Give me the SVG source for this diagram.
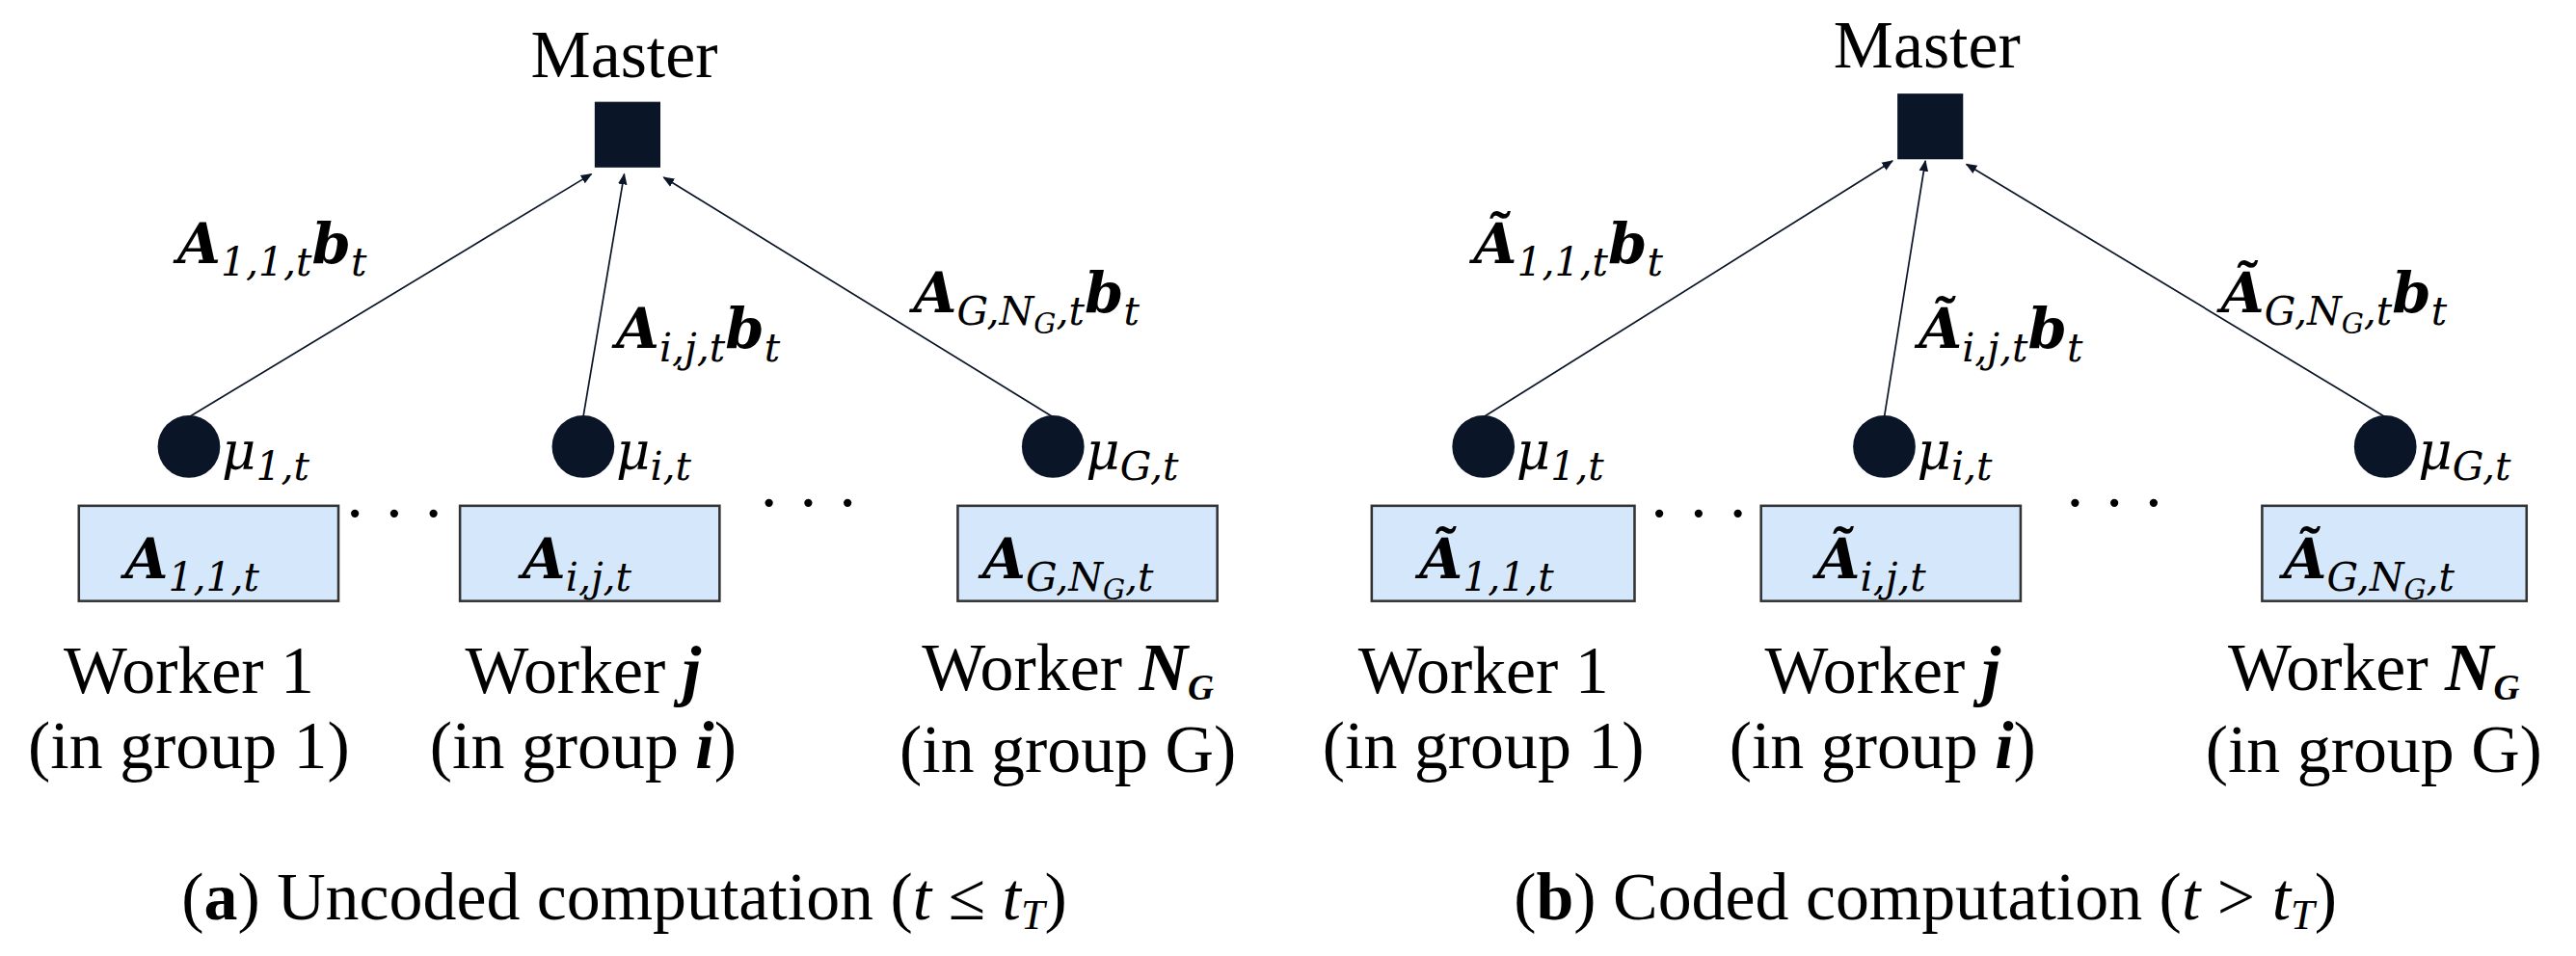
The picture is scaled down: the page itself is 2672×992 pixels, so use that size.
<svg xmlns="http://www.w3.org/2000/svg" width="2672" height="992" viewBox="0 0 2672 992">
<defs>
<marker id="ah" viewBox="0 0 10 10" refX="9" refY="5" markerWidth="7" markerHeight="7" orient="auto-start-reverse"><path d="M0,1 L10,5 L0,9 z" fill="#0a1628"/></marker>
<style>
.t{font-family:"Liberation Serif",serif;font-size:41px;fill:#000}
.m{font-family:"DejaVu Serif",serif;font-size:34px;font-weight:bold;font-style:italic;fill:#000}
.mu{font-family:"DejaVu Serif",serif;font-size:32px;font-style:italic;fill:#000}
.s{font-size:24px;font-weight:normal}
.g{font-size:17px;font-weight:normal}
.box{fill:#d5e8fb;stroke:#333;stroke-width:1.5}
.c{fill:#0a1628}
.e{stroke:#0a1628;stroke-width:1;fill:none;marker-end:url(#ah)}
</style>
</defs>
<rect width="2672" height="992" fill="#fff"/>
<g transform="scale(1.704)">
<g id="edges">
<line class="e" x1="115" y1="254" x2="360" y2="106"/>
<line class="e" x1="355" y1="254" x2="380" y2="106"/>
<line class="e" x1="641" y1="254" x2="404" y2="108"/>
<line class="e" x1="903" y1="254" x2="1152" y2="98"/>
<line class="e" x1="1147" y1="254" x2="1172" y2="98"/>
<line class="e" x1="1452" y1="254" x2="1197" y2="100"/>
</g>
<g id="masterA"><text class="t" x="380" y="47" text-anchor="middle">Master</text><rect class="c" x="362" y="62" width="40" height="40"/></g>
<g id="masterB"><text class="t" x="1173" y="41" text-anchor="middle">Master</text><rect class="c" x="1155" y="57" width="40" height="40"/></g>
<g id="labelsA">
<text class="m" x="108" y="160">A<tspan class="s" dy="8">1,1,t</tspan><tspan dy="-8">b</tspan><tspan class="s" dy="8">t</tspan></text>
<text class="m" x="375" y="212">A<tspan class="s" dy="8">i,j,t</tspan><tspan dy="-8">b</tspan><tspan class="s" dy="8">t</tspan></text>
<text class="m" x="556" y="190">A<tspan class="s" dy="8">G,N</tspan><tspan class="g" dy="5">G</tspan><tspan class="s" dy="-5">,t</tspan><tspan dy="-8">b</tspan><tspan class="s" dy="8">t</tspan></text>
</g>
<g id="labelsB">
<text class="m" x="897" y="160">Ã<tspan class="s" dy="8">1,1,t</tspan><tspan dy="-8">b</tspan><tspan class="s" dy="8">t</tspan></text>
<text class="m" x="1168" y="212">Ã<tspan class="s" dy="8">i,j,t</tspan><tspan dy="-8">b</tspan><tspan class="s" dy="8">t</tspan></text>
<text class="m" x="1352" y="190">Ã<tspan class="s" dy="8">G,N</tspan><tspan class="g" dy="5">G</tspan><tspan class="s" dy="-5">,t</tspan><tspan dy="-8">b</tspan><tspan class="s" dy="8">t</tspan></text>
</g>
<g id="w1a"><circle class="c" cx="115" cy="272" r="19"/><text class="mu" x="135" y="286">μ<tspan class="s" dy="6">1,t</tspan></text><rect class="box" x="48" y="308" width="158" height="58"/><text class="m" x="76" y="352">A<tspan class="s" dy="8">1,1,t</tspan></text><text class="t" x="115" y="422" text-anchor="middle">Worker 1</text><text class="t" x="115" y="468" text-anchor="middle">(in group 1)</text></g>
<g id="wja"><circle class="c" cx="355" cy="272" r="19"/><text class="mu" x="375" y="286">μ<tspan class="s" dy="6">i,t</tspan></text><rect class="box" x="280" y="308" width="158" height="58"/><text class="m" x="318" y="352">A<tspan class="s" dy="8">i,j,t</tspan></text><text class="t" x="355" y="422" text-anchor="middle">Worker <tspan font-weight="bold" font-style="italic">j</tspan></text><text class="t" x="355" y="468" text-anchor="middle">(in group <tspan font-weight="bold" font-style="italic">i</tspan>)</text></g>
<g id="wna"><circle class="c" cx="641" cy="272" r="19"/><text class="mu" x="661" y="286">μ<tspan class="s" dy="6">G,t</tspan></text><rect class="box" x="583" y="308" width="158" height="58"/><text class="m" x="598" y="352">A<tspan class="s" dy="8">G,N</tspan><tspan class="g" dy="5">G</tspan><tspan class="s" dy="-5">,t</tspan></text><text class="t" x="650" y="420" text-anchor="middle">Worker <tspan font-weight="bold" font-style="italic">N</tspan><tspan font-weight="bold" font-style="italic" style="font-size:22px" dy="6">G</tspan></text><text class="t" x="650" y="470" text-anchor="middle">(in group G)</text></g>
<g id="w1b"><circle class="c" cx="903" cy="272" r="19"/><text class="mu" x="923" y="286">μ<tspan class="s" dy="6">1,t</tspan></text><rect class="box" x="835" y="308" width="160" height="58"/><text class="m" x="864" y="352">Ã<tspan class="s" dy="8">1,1,t</tspan></text><text class="t" x="903" y="422" text-anchor="middle">Worker 1</text><text class="t" x="903" y="468" text-anchor="middle">(in group 1)</text></g>
<g id="wjb"><circle class="c" cx="1147" cy="272" r="19"/><text class="mu" x="1167" y="286">μ<tspan class="s" dy="6">i,t</tspan></text><rect class="box" x="1072" y="308" width="158" height="58"/><text class="m" x="1106" y="352">Ã<tspan class="s" dy="8">i,j,t</tspan></text><text class="t" x="1146" y="422" text-anchor="middle">Worker <tspan font-weight="bold" font-style="italic">j</tspan></text><text class="t" x="1146" y="468" text-anchor="middle">(in group <tspan font-weight="bold" font-style="italic">i</tspan>)</text></g>
<g id="wnb"><circle class="c" cx="1452" cy="272" r="19"/><text class="mu" x="1472" y="286">μ<tspan class="s" dy="6">G,t</tspan></text><rect class="box" x="1377" y="308" width="161" height="58"/><text class="m" x="1390" y="352">Ã<tspan class="s" dy="8">G,N</tspan><tspan class="g" dy="5">G</tspan><tspan class="s" dy="-5">,t</tspan></text><text class="t" x="1445" y="420" text-anchor="middle">Worker <tspan font-weight="bold" font-style="italic">N</tspan><tspan font-weight="bold" font-style="italic" style="font-size:22px" dy="6">G</tspan></text><text class="t" x="1445" y="470" text-anchor="middle">(in group G)</text></g>
<g id="dots"><text class="t" x="240" y="326" text-anchor="middle">· · ·</text><text class="t" x="492" y="320" text-anchor="middle">· · ·</text><text class="t" x="1034" y="326" text-anchor="middle">· · ·</text><text class="t" x="1287" y="320" text-anchor="middle">· · ·</text></g>
<g id="captions">
<text class="t" x="380" y="560" text-anchor="middle">(<tspan font-weight="bold">a</tspan>)  Uncoded computation (<tspan font-style="italic">t</tspan> ≤ <tspan font-style="italic">t</tspan><tspan font-style="italic" style="font-size:26px" dy="6">T</tspan><tspan dy="-6">)</tspan></text>
<text class="t" x="1172" y="560" text-anchor="middle">(<tspan font-weight="bold">b</tspan>)  Coded computation (<tspan font-style="italic">t</tspan> &gt; <tspan font-style="italic">t</tspan><tspan font-style="italic" style="font-size:26px" dy="6">T</tspan><tspan dy="-6">)</tspan></text>
</g>
</g>
</svg>
